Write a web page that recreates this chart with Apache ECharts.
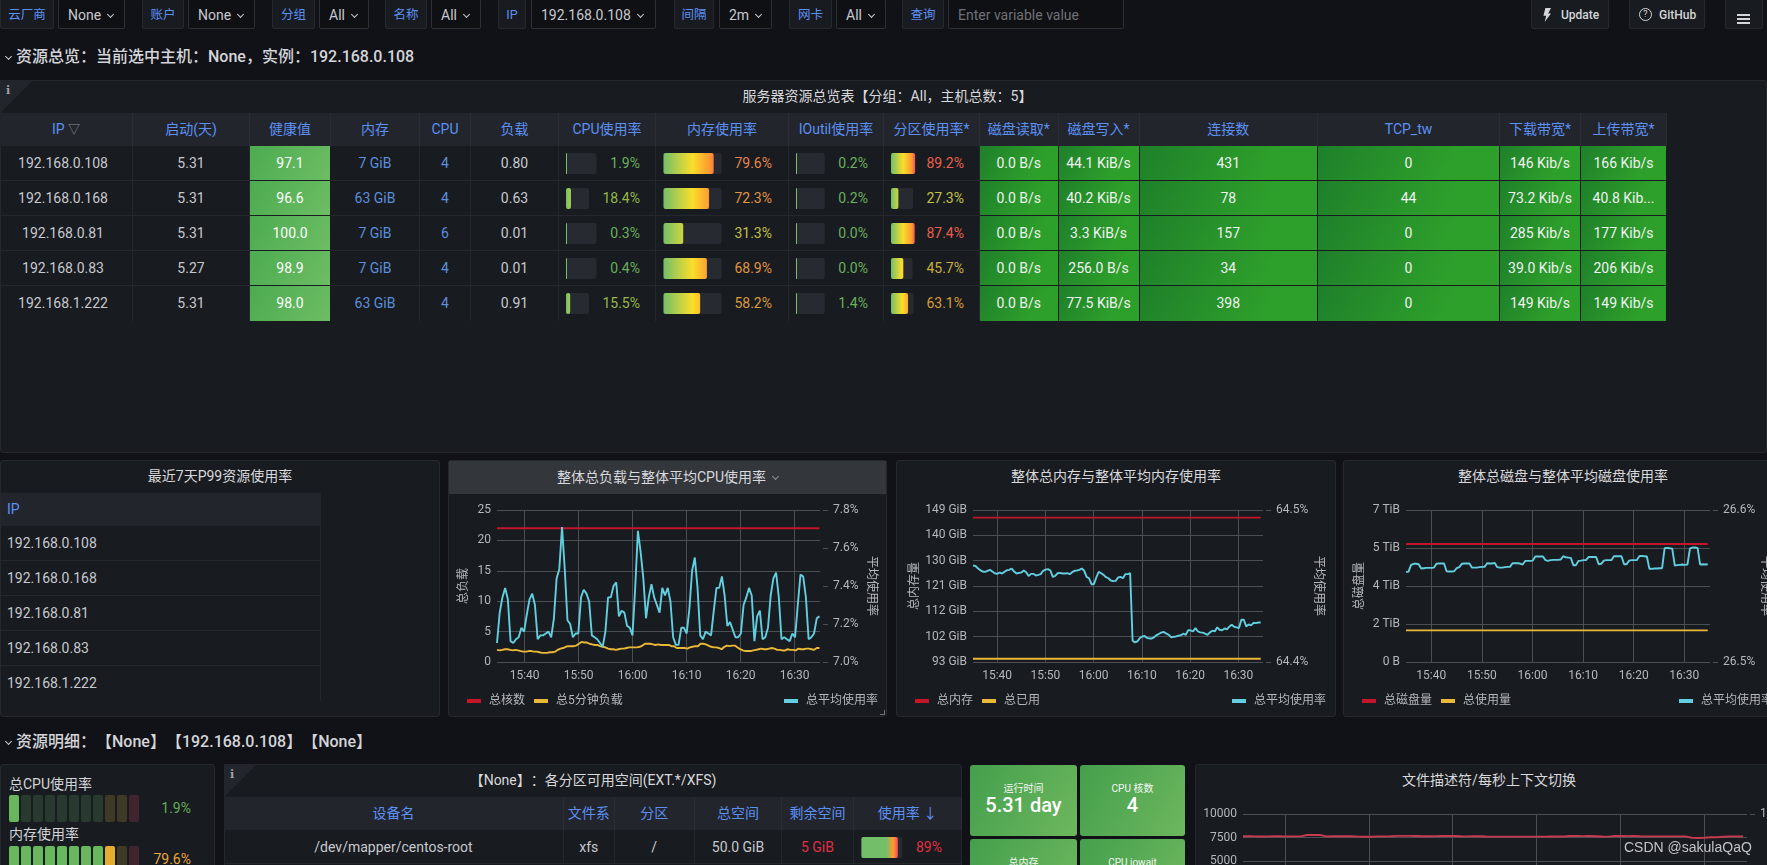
<!DOCTYPE html>
<html>
<head>
<meta charset="utf-8">
<title>Grafana</title>
<script src="https://cdn.jsdelivr.net/npm/echarts@6/dist/echarts.min.js"></script>
<style>
html, body { margin: 0; padding: 0; background: #111217; overflow: hidden; }
#page { position: absolute; left: 0; top: 0; width: 1767px; height: 865px; overflow: hidden; font-family: Roboto, "Noto Sans CJK SC", sans-serif; font-size: 14px; color: #c7c9cf; text-spacing-trim: space-all; }
#page div { position: absolute; box-sizing: border-box; white-space: nowrap; overflow: hidden; }
#chart { position: absolute; left: 0; top: 0; width: 1767px; height: 865px; z-index: 1; }
.panel { background: #181b1f; border: 1px solid #25282d; border-radius: 3px; }
.title { font-weight: 400; text-align: center; color: #d8d9dc; }
.head { background: #22252b; color: #5c90f5; text-align: center; }
.chev { display: inline-block; width: 4px; height: 4px; border-right: 1.2px solid #c7c9cf; border-bottom: 1.2px solid #c7c9cf; transform: rotate(45deg); margin: 0 0 3px 7px; }
</style>
</head>
<body>
<div id="page"></div>
<div id="chart"></div>
<script>
//总览表
var ipList = ['192.168.0.108', '192.168.0.168', '192.168.0.81', '192.168.0.83', '192.168.1.222'];
var uptimeDays = ['5.31', '5.31', '5.31', '5.27', '5.31'];
var healthScores = ['97.1', '96.6', '100.0', '98.9', '98.0'];
var memTotals = ['7 GiB', '63 GiB', '7 GiB', '7 GiB', '63 GiB'];
var cpuCores = ['4', '4', '6', '4', '4'];
var loadValues = ['0.80', '0.63', '0.01', '0.01', '0.91'];
var cpuUsage = [1.9, 18.4, 0.3, 0.4, 15.5];
var memUsage = [79.6, 72.3, 31.3, 68.9, 58.2];
var ioUsage = [0.2, 0.2, 0.0, 0.0, 1.4];
var partUsage = [89.2, 27.3, 87.4, 45.7, 63.1];
var diskRead = ['0.0 B/s', '0.0 B/s', '0.0 B/s', '0.0 B/s', '0.0 B/s'];
var diskWrite = ['44.1 KiB/s', '40.2 KiB/s', '3.3 KiB/s', '256.0 B/s', '77.5 KiB/s'];
var connCounts = ['431', '78', '157', '34', '398'];
var tcpTw = ['0', '44', '0', '0', '0'];
var downBand = ['146 Kib/s', '73.2 Kib/s', '285 Kib/s', '39.0 Kib/s', '149 Kib/s'];
var upBand = ['166 Kib/s', '40.8 Kib...', '177 Kib/s', '206 Kib/s', '149 Kib/s'];

//CPU 图
var cpuCoresTotal = [22, 22];
var cpuLoad5 = [2.0, 1.9, 2.0, 2.1, 2.1, 2.0, 1.9, 2.0, 1.9, 1.8, 1.7, 1.7, 1.8, 1.8, 1.7, 1.7, 1.6, 1.5, 1.5, 1.5, 1.6, 1.6, 1.7, 2.0, 2.2, 2.3, 2.5, 2.6, 2.6, 2.6, 2.7, 3.0, 3.3, 3.2, 3.2, 3.0, 2.9, 2.8, 2.8, 2.6, 2.5, 2.4, 2.2, 2.1, 2.1, 2.0, 2.1, 2.2, 2.2, 2.3, 2.4, 2.4, 2.4, 2.4, 2.5, 2.7, 3.0, 3.0, 3.0, 2.9, 2.8, 2.9, 2.8, 2.8, 2.8, 2.8, 2.6, 2.6, 2.3, 2.3, 2.3, 2.3, 2.2, 2.4, 2.5, 2.6, 2.6, 3.0, 3.0, 2.9, 2.7, 2.5, 2.4, 2.4, 2.3, 2.1, 2.5, 2.7, 2.6, 2.7, 2.7, 2.4, 2.1, 1.9, 1.8, 1.8, 1.8, 1.9, 2.0, 2.1, 2.2, 2.1, 2.1, 2.2, 2.3, 2.2, 2.0, 2.0, 1.9, 1.9, 2.1, 2.0, 2.0, 1.9, 2.2, 2.1, 2.1, 2.2, 2.2, 2.1, 2.0, 2.3, 2.3];
var cpuAvg = [7.10, 7.26, 7.34, 7.39, 7.33, 7.11, 7.10, 7.12, 7.13, 7.18, 7.16, 7.25, 7.33, 7.36, 7.30, 7.12, 7.14, 7.14, 7.15, 7.16, 7.13, 7.23, 7.44, 7.49, 7.71, 7.49, 7.22, 7.20, 7.13, 7.15, 7.15, 7.34, 7.38, 7.36, 7.32, 7.14, 7.13, 7.12, 7.10, 7.08, 7.16, 7.34, 7.34, 7.40, 7.42, 7.24, 7.27, 7.26, 7.19, 7.18, 7.14, 7.39, 7.69, 7.58, 7.44, 7.23, 7.34, 7.41, 7.34, 7.30, 7.26, 7.39, 7.35, 7.39, 7.32, 7.13, 7.09, 7.09, 7.18, 7.18, 7.15, 7.28, 7.48, 7.55, 7.39, 7.14, 7.12, 7.16, 7.15, 7.14, 7.27, 7.39, 7.39, 7.45, 7.35, 7.19, 7.21, 7.17, 7.13, 7.13, 7.15, 7.30, 7.34, 7.39, 7.35, 7.11, 7.24, 7.27, 7.12, 7.13, 7.18, 7.35, 7.44, 7.47, 7.34, 7.12, 7.13, 7.12, 7.11, 7.15, 7.13, 7.30, 7.46, 7.45, 7.34, 7.12, 7.13, 7.15, 7.23, 7.24];

//内存图
var memTotalGiB = [146.2, 146.2];
var memUsedGiB = [94.2, 94.2];
var memAvg = [64.4635, 64.4632, 64.4617, 64.4604, 64.4595, 64.4593, 64.4600, 64.4606, 64.4595, 64.4584, 64.4580, 64.4589, 64.4582, 64.4593, 64.4604, 64.4606, 64.4615, 64.4595, 64.4582, 64.4586, 64.4589, 64.4602, 64.4591, 64.4565, 64.4580, 64.4580, 64.4569, 64.4573, 64.4578, 64.4600, 64.4608, 64.4611, 64.4602, 64.4560, 64.4567, 64.4584, 64.4586, 64.4582, 64.4582, 64.4584, 64.4578, 64.4591, 64.4600, 64.4602, 64.4606, 64.4615, 64.4600, 64.4560, 64.4551, 64.4512, 64.4512, 64.4556, 64.4593, 64.4584, 64.4573, 64.4558, 64.4551, 64.4536, 64.4532, 64.4534, 64.4556, 64.4560, 64.4551, 64.4578, 64.4578, 64.4584, 64.4140, 64.4129, 64.4136, 64.4158, 64.4168, 64.4171, 64.4158, 64.4155, 64.4155, 64.4164, 64.4177, 64.4186, 64.4195, 64.4197, 64.4186, 64.4179, 64.4162, 64.4166, 64.4168, 64.4173, 64.4177, 64.4186, 64.4179, 64.4210, 64.4208, 64.4201, 64.4223, 64.4201, 64.4195, 64.4193, 64.4186, 64.4179, 64.4195, 64.4206, 64.4201, 64.4228, 64.4212, 64.4208, 64.4221, 64.4214, 64.4232, 64.4245, 64.4232, 64.4228, 64.4223, 64.4278, 64.4278, 64.4234, 64.4247, 64.4241, 64.4258, 64.4256, 64.4260, 64.4260];
var memTickValues = [93, 102.33, 111.67, 121, 130.33, 139.67, 149];

//磁盘图
var diskTotalTiB = [5.59, 5.59];
var diskUsedTiB = [1.5, 1.5];
var diskAvg = [26.5591, 26.5595, 26.5639, 26.5646, 26.5646, 26.5643, 26.5615, 26.5617, 26.5619, 26.5619, 26.5619, 26.5621, 26.5646, 26.5648, 26.5648, 26.5648, 26.5597, 26.5595, 26.5595, 26.5597, 26.5617, 26.5624, 26.5646, 26.5648, 26.5648, 26.5648, 26.5621, 26.5621, 26.5621, 26.5624, 26.5626, 26.5626, 26.5650, 26.5648, 26.5648, 26.5652, 26.5624, 26.5621, 26.5621, 26.5624, 26.5626, 26.5626, 26.5650, 26.5650, 26.5650, 26.5648, 26.5641, 26.5665, 26.5665, 26.5665, 26.5667, 26.5694, 26.5694, 26.5694, 26.5694, 26.5670, 26.5665, 26.5670, 26.5672, 26.5672, 26.5672, 26.5674, 26.5696, 26.5689, 26.5687, 26.5685, 26.5637, 26.5637, 26.5665, 26.5667, 26.5670, 26.5670, 26.5691, 26.5691, 26.5691, 26.5691, 26.5643, 26.5646, 26.5667, 26.5670, 26.5670, 26.5670, 26.5696, 26.5696, 26.5696, 26.5696, 26.5643, 26.5643, 26.5667, 26.5670, 26.5670, 26.5670, 26.5696, 26.5698, 26.5696, 26.5694, 26.5613, 26.5613, 26.5615, 26.5615, 26.5617, 26.5617, 26.5748, 26.5751, 26.5748, 26.5746, 26.5635, 26.5637, 26.5639, 26.5641, 26.5639, 26.5641, 26.5748, 26.5753, 26.5753, 26.5751, 26.5641, 26.5643, 26.5641, 26.5643];

//文件描述符
var fdValues = [7660, 7660, 7640, 7630, 7640, 7670, 7650, 7640, 7640, 7640, 7790, 7790, 7790, 7640, 7650, 7660, 7660, 7650, 7620, 7600, 7600, 7640, 7640, 7650, 7690, 7700, 7690, 7680, 7650, 7650, 7670, 7680, 7680, 7680, 7650, 7640, 7660, 7650, 7630, 7620, 7620, 7620, 7610, 7620, 7620, 7610, 7610, 7610, 7630, 7640, 7630, 7680, 7680, 7670, 7680, 7660, 7630, 7620, 7680, 7680, 7670, 7680, 7650, 7640, 7640, 7640, 7640, 7640, 7640, 7640, 7500, 7470, 7500, 7550, 7550, 7600, 7640, 7640, 7630];

var timeTicks = [40, 50, 60, 70, 80, 90];
var ledSegments = [1, 2, 3, 4, 5, 6, 7, 8, 9, 10, 11];
var totalCpuPct = 1.9;
var totalMemPct = 79.6;

var page = document.getElementById('page');

function box(x, y, w, h, style, html, cls) {
    var d = document.createElement('div');
    d.style.cssText = 'left:' + x + 'px;top:' + y + 'px;width:' + w + 'px;height:' + h + 'px;line-height:' + h + 'px;' + (style || '');
    if (cls) d.className = cls;
    d.innerHTML = html || '';
    page.appendChild(d);
    return d;
}

function infoCorner(x, y) {
    box(x, y, 33, 33, 'background:#22252b;clip-path:polygon(0 0,100% 0,0 100%);');
    box(x + 6, y + 2, 8, 18, 'color:#9fa3a9;font-size:11px;font-family:\'DejaVu Serif\';font-weight:bold;', 'i');
}

//顶部变量栏
var barItems = [
    [0, 54, '云厂商', 58, 67, 'None'], [142, 42, '账户', 188, 67, 'None'], [272, 43, '分组', 319, 50, 'All'], [385, 42, '名称', 431, 50, 'All'],
    [498, 28, 'IP', 531, 125, '192.168.0.108'], [674, 40, '间隔', 719, 53, '2m'], [789, 43, '网卡', 836, 50, 'All']
];
barItems.forEach(function (b) {
    box(b[0], -1, b[1], 30, 'background:#181b1f;border:1px solid #25282d;border-radius:2px;color:#5c90f5;font-size:12.5px;text-align:center;', b[2]);
    box(b[3], -1, b[4], 30, 'background:#0f1014;border:1px solid #2c3035;border-radius:2px;color:#c7c9cf;padding-left:9px;', b[5] + '<span class="chev"></span>');
});
box(902, -1, 42, 30, 'background:#181b1f;border:1px solid #25282d;border-radius:2px;color:#5c90f5;font-size:12.5px;text-align:center;', '查询');
box(948, -1, 176, 30, 'background:#0f1014;border:1px solid #2c3035;border-radius:2px;color:#6e7177;padding-left:9px;', 'Enter variable value');
box(1531, -1, 78, 30, 'background:#181b1f;border:1px solid #25282d;border-radius:2px;color:#d3d5d9;font-size:12px;font-weight:500;padding-left:29px;', 'Update');
box(1629, -1, 76, 30, 'background:#181b1f;border:1px solid #25282d;border-radius:2px;color:#d3d5d9;font-size:12px;font-weight:500;padding-left:29px;', 'GitHub');
box(1725, -1, 38, 30, 'background:#181b1f;border:1px solid #25282d;border-radius:2px;');
box(1543, 8, 8, 14, 'background:#d3d5d9;clip-path:polygon(30% 0,100% 0,65% 40%,100% 40%,20% 100%,40% 55%,5% 55%);');
box(1639, 8, 13, 13, 'border:1.4px solid #d3d5d9;border-radius:50%;color:#d3d5d9;font-size:9px;line-height:10px;text-align:center;', '?');
box(1737, 14, 13, 1.5, 'background:#d3d5d9;');
box(1737, 18, 13, 1.5, 'background:#d3d5d9;');
box(1737, 22, 13, 1.5, 'background:#d3d5d9;');

//分组标题
box(4, 46, 500, 22, 'font-size:16px;font-weight:500;color:#d3d5d9;', '<span class="chev" style="margin:0 5px 3px 2px"></span>资源总览：当前选中主机：None，实例：192.168.0.108');
box(4, 731, 500, 22, 'font-size:16px;font-weight:500;color:#d3d5d9;', '<span class="chev" style="margin:0 5px 3px 2px"></span>资源明细：【None】【192.168.0.108】【None】');

//总览表面板
box(0, 80, 1767, 373, '', '', 'panel');
infoCorner(0, 80);
box(500, 85, 775, 22, 'font-size:14px;', '服务器资源总览表【分组：All，主机总数：5】', 'title');

var colEdges = [0, 133, 250, 331, 420, 471, 559, 656, 789, 884, 980, 1058.5, 1139.5, 1318, 1500, 1581, 1667];
var colNames = ['IP <span style="color:#8e9198;font-size:12px">▽</span>', '启动(天)', '健康值', '内存', 'CPU', '负载', 'CPU使用率', '内存使用率', 'IOutil使用率', '分区使用率*', '磁盘读取*', '磁盘写入*', '连接数', 'TCP_tw', '下载带宽*', '上传带宽*'];
var colData = [ipList, uptimeDays, healthScores, memTotals, cpuCores, loadValues, null, null, null, null, diskRead, diskWrite, connCounts, tcpTw, downBand, upBand];
var rowTop = 146, rowH = 35;

colNames.forEach(function (name, c) {
    var x = colEdges[c], w = colEdges[c + 1] - x;
    box(x, 113, w, 33, 'border-right:1px solid #2a2d33;', name, 'head');
    for (var r = 0; r < 5; r++) {
        var y = rowTop + r * rowH, style = 'text-align:center;border-right:1px solid #24272c;';
        if (r < 4) style += 'border-bottom:1px solid #24272c;';
        if (c === 0) style += 'padding-right:6px;';
        if (c === 2) {
            style += 'background:linear-gradient(120deg,#4cab50,#6dbd64);color:#fff;border-color:#181b1f;';
        } else if (c >= 10) {
            style += 'background:linear-gradient(120deg,#1f7f2a,#2d9f2b 70%);color:#f0f2f0;border-color:#181b1f;';
        } else if (c === 3 || c === 4) {
            style += 'color:#5b8fdc;';
        }
        box(x, y, w, rowH, style, colData[c] ? colData[c][r] : '');
    }
});

//面板：P99 表
box(0, 460, 440, 257, '', '', 'panel');
box(0, 465, 440, 22, 'font-size:14px;', '最近7天P99资源使用率', 'title');
box(1, 493, 320, 33, 'background:#22252b;color:#5c90f5;padding-left:6px;', 'IP');
ipList.forEach(function (ip, r) {
    box(1, 526 + r * 35, 320, 35, 'padding-left:6px;border-right:1px solid #24272c;' + (r < 4 ? 'border-bottom:1px solid #24272c;' : ''), ip);
});

//三个折线图面板
box(448, 460, 439, 257, '', '', 'panel');
box(449, 461, 437, 33, 'background:#33363b;font-size:14px;', '整体总负载与整体平均CPU使用率<span class="chev" style="border-color:#8e9198"></span>', 'title');
box(880, 710, 5, 5, 'border-right:1.5px solid #6e7177;border-bottom:1.5px solid #6e7177;');
box(896, 460, 440, 257, '', '', 'panel');
box(896, 465, 440, 22, 'font-size:14px;', '整体总内存与整体平均内存使用率', 'title');
box(1343, 460, 440, 257, '', '', 'panel');
box(1343, 465, 440, 22, 'font-size:14px;', '整体总磁盘与整体平均磁盘使用率', 'title');

//底部面板
box(0, 764, 215, 120, '', '', 'panel');
box(9, 775, 120, 18, 'font-size:14px;color:#d3d5d9;', '总CPU使用率');
box(9, 825, 120, 18, 'font-size:14px;color:#d3d5d9;', '内存使用率');
box(150, 798, 41, 20, 'color:#62ad57;text-align:right;', totalCpuPct + '%');
box(150, 849, 41, 20, 'color:#e8a73a;text-align:right;', totalMemPct + '%');

box(224, 764, 738, 120, '', '', 'panel');
infoCorner(224, 764);
box(224, 769, 738, 22, 'font-size:14px;', '【None】：各分区可用空间(EXT.*/XFS)', 'title');
var subEdges = [224, 564, 614.5, 695, 782, 854, 962];
var subNames = ['设备名', '文件系', '分区', '总空间', '剩余空间', '使用率 ↓'];
var subRow = ['/dev/mapper/centos-root', 'xfs', '/', '50.0 GiB', '5 GiB', ''];
subNames.forEach(function (n, i) {
    box(subEdges[i], 797, subEdges[i + 1] - subEdges[i], 33, 'border-right:1px solid #2a2d33;', n, 'head');
    box(subEdges[i], 830, subEdges[i + 1] - subEdges[i], 34, 'text-align:center;border-right:1px solid #24272c;border-bottom:1px solid #24272c;' + (i === 4 ? 'color:#e02f44;' : ''), subRow[i]);
});
box(905, 837, 37, 20, 'color:#e02f44;text-align:right;', '89%');

var tiles = [
    [970, 765, 107, 71, '运行时间', '5.31 day'], [1080, 765, 105, 71, 'CPU 核数', '4'],
    [970, 839, 107, 60, '总内存', ''], [1080, 839, 105, 60, 'CPU iowait', '']
];
tiles.forEach(function (t) {
    box(t[0], t[1], t[2], t[3], 'background:linear-gradient(120deg,#449f4c,#6db75e);border-radius:3px;');
    box(t[0], t[1] + 16, t[2], 16, 'color:#f4f6f4;font-size:10px;text-align:center;', t[4]);
    box(t[0], t[1] + 27, t[2], 26, 'color:#fff;font-size:20px;font-weight:500;text-align:center;', t[5]);
});

box(1195, 764, 590, 120, '', '', 'panel');
box(1195, 769, 588, 22, 'font-size:14px;', '文件描述符/每秒上下文切换', 'title');
box(1624, 838, 130, 18, 'z-index:2;color:#c2c4c8;font-size:14px;font-family:\'Liberation Sans\';', 'CSDN @sakulaQaQ');

//图表部分
function points(values, from, to) {
    var step = (to - from) / (values.length - 1);
    return values.map(function (v, i) {
        return [from + step * i, v];
    });
}

function timeLabel(minute) {
    var m = minute % 60;
    return (15 + Math.floor(minute / 60)) + ':' + (m < 10 ? '0' : '') + m;
}

var lineColor = '#4b4e52', labelColor = '#b4b7bb';
var option = {
    animation: false,
    backgroundColor: 'transparent',
    textStyle: { fontFamily: 'Roboto, "Noto Sans CJK SC", sans-serif' },
    grid: [], xAxis: [], yAxis: [], legend: [], series: []
};

function addLineChart(cfg) {
    var gi = option.grid.length;
    var li = option.yAxis.length;
    option.grid.push({ left: cfg.left, top: cfg.top, width: cfg.width, height: cfg.height, outerBoundsMode: 'none' });
    option.xAxis.push({
        type: 'value', gridIndex: gi, min: cfg.start, max: cfg.end,
        axisLine: { show: false }, axisTick: { show: false, customValues: timeTicks },
        axisLabel: { color: labelColor, fontSize: 12, margin: 8, customValues: timeTicks, formatter: timeLabel },
        splitLine: { show: true, lineStyle: { color: lineColor, width: 1 } }
    });
    var left = {
        type: 'value', gridIndex: gi, min: cfg.leftMin, max: cfg.leftMax, name: cfg.leftName, nameLocation: 'middle', nameGap: cfg.leftGap,
        nameTextStyle: { color: labelColor, fontSize: 12 },
        axisLine: { show: false }, axisTick: { show: false },
        axisLabel: { color: labelColor, fontSize: 12, margin: 6, formatter: cfg.leftFormat },
        splitLine: { show: true, lineStyle: { color: lineColor, width: 1 } }
    };
    if (cfg.leftTicks) {
        left.axisLabel.customValues = cfg.leftTicks;
        left.axisTick.customValues = cfg.leftTicks;
    } else {
        left.interval = cfg.leftInterval;
    }
    option.yAxis.push(left);
    option.yAxis.push({
        type: 'value', gridIndex: gi, position: 'right', offset: 3, min: cfg.rightMin, max: cfg.rightMax, name: cfg.rightName, nameLocation: 'middle', nameGap: cfg.rightGap, nameRotate: -90,
        nameTextStyle: { color: labelColor, fontSize: 12 },
        axisLine: { show: false }, axisTick: { show: true, length: 5, lineStyle: { color: lineColor }, customValues: cfg.rightTicks },
        axisLabel: { color: labelColor, fontSize: 12, margin: 10, customValues: cfg.rightTicks, formatter: cfg.rightFormat },
        splitLine: { show: false }
    });
    cfg.lines.forEach(function (l) {
        option.series.push({
            name: l.name, type: 'line', xAxisIndex: gi, yAxisIndex: l.right ? li + 1 : li,
            data: points(l.values, cfg.start, cfg.dataEnd), showSymbol: false, symbol: 'none',
            lineStyle: { color: l.color, width: 1.9 }, itemStyle: { color: l.color }
        });
    });
    if (cfg.legendLeft) {
        option.legend.push({
            left: cfg.legendLeft, top: 695, padding: 0, itemGap: 9, itemWidth: 14, itemHeight: 4, icon: 'rect', selectedMode: false,
            textStyle: { color: labelColor, fontSize: 12, padding: [0, 0, 0, 3] },
            data: cfg.lines.filter(function (l) { return !l.right; }).map(function (l) { return l.name; })
        });
        option.legend.push({
            left: cfg.legendRight, top: 695, padding: 0, itemWidth: 14, itemHeight: 4, icon: 'rect', selectedMode: false,
            textStyle: { color: labelColor, fontSize: 12, padding: [0, 0, 0, 3] },
            data: cfg.lines.filter(function (l) { return l.right; }).map(function (l) { return l.name; })
        });
    }
}

var red = '#c4162a', yellow = '#eab839', cyan = '#62cfe0';

addLineChart({
    left: 497, top: 510, width: 323, height: 152, start: 34.88, end: 94.7, dataEnd: 94.6,
    leftMin: 0, leftMax: 25, leftInterval: 5, leftName: '总负载', leftGap: 27,
    rightMin: 7, rightMax: 7.8, rightTicks: [7, 7.2, 7.4, 7.6, 7.8], rightName: '平均使用率', rightGap: 42,
    rightFormat: function (v) { return v.toFixed(1) + '%'; },
    legendLeft: 467, legendRight: 784,
    lines: [
        { name: '总核数', values: cpuCoresTotal, color: red },
        { name: '总5分钟负载', values: cpuLoad5, color: yellow },
        { name: '总平均使用率', values: cpuAvg, color: cyan, right: true }
    ]
});

addLineChart({
    left: 973, top: 510, width: 290, height: 152, start: 35, end: 95.1, dataEnd: 94.63,
    leftMin: 93, leftMax: 149, leftTicks: memTickValues, leftName: '总内存量', leftGap: 52,
    leftFormat: function (v) { return Math.round(v) + ' GiB'; },
    rightMin: 64.4, rightMax: 64.5, rightTicks: [64.4, 64.5], rightName: '平均使用率', rightGap: 45,
    rightFormat: function (v) { return v.toFixed(1) + '%'; },
    legendLeft: 915, legendRight: 1232,
    lines: [
        { name: '总内存', values: memTotalGiB, color: red },
        { name: '总已用', values: memUsedGiB, color: yellow },
        { name: '总平均使用率', values: memAvg, color: cyan, right: true }
    ]
});

addLineChart({
    left: 1406, top: 510, width: 304, height: 152, start: 35, end: 95.08, dataEnd: 94.63,
    leftMin: 0, leftMax: 7.2, leftInterval: 1.8, leftName: '总磁盘量', leftGap: 40,
    leftFormat: function (v) { return v === 0 ? '0 B' : Math.round(v) + ' TiB'; },
    rightMin: 26.5, rightMax: 26.6, rightTicks: [26.5, 26.6], rightName: '平均使用率', rightGap: 45,
    rightFormat: function (v) { return v.toFixed(1) + '%'; },
    legendLeft: 1362, legendRight: 1679,
    lines: [
        { name: '总磁盘量', values: diskTotalTiB, color: red },
        { name: '总使用量', values: diskUsedTiB, color: yellow },
        { name: '总平均使用率', values: diskAvg, color: cyan, right: true }
    ]
});

addLineChart({
    left: 1243, top: 814.3, width: 504, height: 93.6, start: 35, end: 95.1, dataEnd: 94.63,
    leftMin: 0, leftMax: 10000, leftInterval: 2500, leftFormat: function (v) { return v; }, leftGap: 40,
    rightMin: 0, rightMax: 1, rightTicks: [0, 1], rightGap: 40,
    rightFormat: function (v) { return v + '%'; },
    lines: [
        { name: '文件描述符', values: fdValues, color: '#c83a50' }
    ]
});

//单元格内的渐变条
function addGauge(x, y, w, h, value, axisMax, stops) {
    var gi = option.grid.length;
    option.grid.push({ left: x, top: y, width: w, height: h, outerBoundsMode: 'none' });
    option.xAxis.push({ type: 'value', gridIndex: gi, min: 0, max: axisMax, show: false });
    option.yAxis.push({ type: 'category', gridIndex: gi, data: [''], show: false });
    option.series.push({
        type: 'bar', xAxisIndex: gi, yAxisIndex: option.yAxis.length - 1, data: [value], barWidth: '100%', barMinHeight: 1,
        showBackground: true, backgroundStyle: { color: '#272a30', borderRadius: 2 },
        itemStyle: { borderRadius: 2, color: new echarts.graphic.LinearGradient(x, 0, x + w, 0, stops, true) }
    });
}

function pctColor(v) {
    if (v < 10) return '#68b05c';
    if (v < 25) return '#96b848';
    if (v < 40) return '#c2c044';
    if (v < 50) return '#c9ae3d';
    if (v < 66) return '#d99c3a';
    if (v < 75) return '#e09340';
    if (v < 85) return '#e5854a';
    return '#e8604c';
}

var fullStops = [
    { offset: 0, color: '#73bf69' }, { offset: 0.5, color: '#fade2a' },
    { offset: 0.8, color: '#ff9830' }, { offset: 1, color: '#f2495c' }
];
var partStops = [
    { offset: 0, color: '#73bf69' }, { offset: 0.5, color: '#fade2a' },
    { offset: 0.85, color: '#ff9830' }, { offset: 1, color: '#f2495c' }
];
var gaugeCols = [
    { data: cpuUsage, x: 566, widths: [30.4, 23, 30.4, 30.4, 23], pxPerUnit: 0.27, textRight: 640, stops: fullStops },
    { data: memUsage, x: 663.5, widths: [58, 58, 58, 58, 58], pxPerUnit: 0.63, textRight: 772, stops: fullStops },
    { data: ioUsage, x: 796, widths: [28.7, 28.7, 28.7, 28.7, 28.7], pxPerUnit: 0.31, textRight: 868, stops: fullStops },
    { data: partUsage, x: 891, widths: [24.5, 22, 24.5, 21.5, 22.5], pxPerUnit: 0.27, textRight: 964, stops: partStops }
];
gaugeCols.forEach(function (col) {
    col.data.forEach(function (v, r) {
        addGauge(col.x, rowTop + r * rowH + 7, col.widths[r], 21, v, col.widths[r] / col.pxPerUnit, col.stops);
        box(col.textRight - 50, rowTop + r * rowH, 50, rowH - 1, 'text-align:right;color:' + pctColor(v) + ';', v.toFixed(1) + '%');
    });
});
addGauge(861.4, 837, 41, 21, 89, 100, [{ offset: 0, color: '#73bf69' }, { offset: 0.6, color: '#73bf69' }, { offset: 0.78, color: '#ff9830' }, { offset: 0.89, color: '#f2495c' }, { offset: 1, color: '#f2495c' }]);

//LED 条
function addLed(y, pct) {
    var gi = option.grid.length;
    option.grid.push({ left: 8, top: y, width: 132, height: 27, outerBoundsMode: 'none' });
    option.xAxis.push({ type: 'category', gridIndex: gi, data: ledSegments, show: false });
    option.yAxis.push({ type: 'value', gridIndex: gi, min: 0, max: 1, show: false });
    option.series.push({
        type: 'bar', xAxisIndex: gi, yAxisIndex: option.yAxis.length - 1, barWidth: 10,
        itemStyle: { borderRadius: 2 },
        data: ledSegments.map(function (s) {
            var lit = pct > (s - 1) / ledSegments.length * 100;
            var color;
            if (s <= 8) color = lit ? '#68b75e' : '#283a2f';
            else if (s <= 10) color = lit ? '#e5ad2f' : '#3f3a25';
            else color = lit ? '#e02f44' : '#402530';
            return { value: 1, itemStyle: { color: color } };
        })
    });
}
addLed(795, totalCpuPct);
addLed(846, totalMemPct);

var myChart = echarts.init(document.getElementById('chart'));
myChart.setOption(option);
</script>
</body>
</html>
